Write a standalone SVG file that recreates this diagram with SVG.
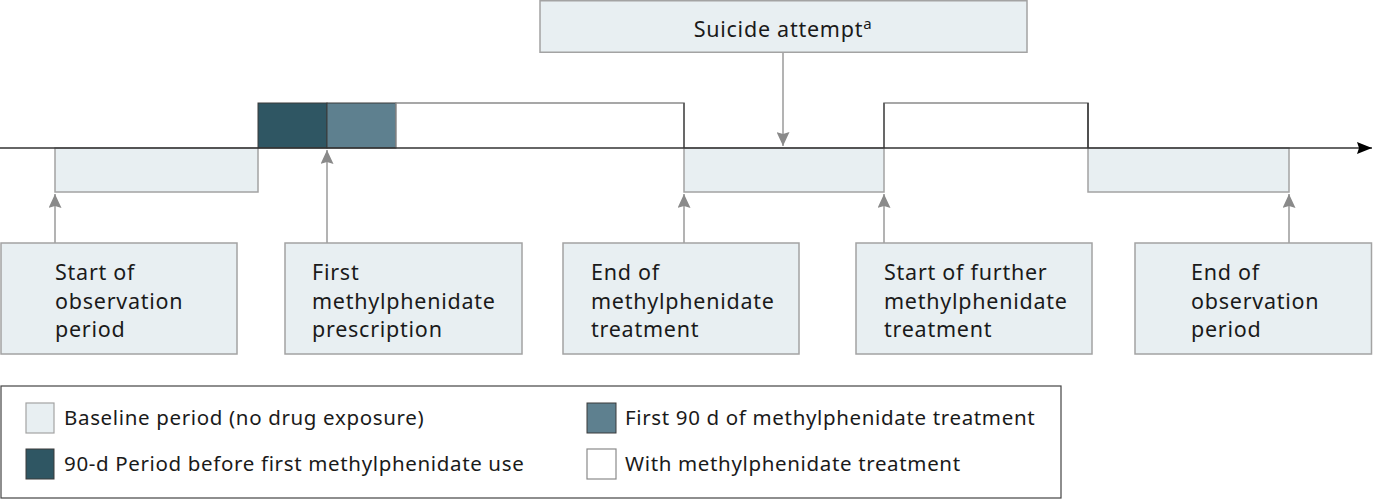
<svg xmlns="http://www.w3.org/2000/svg" width="1373" height="500" viewBox="0 0 1373 500">
<defs>
<style>
.t{font-family:"Noto Sans","Liberation Sans",Arial,sans-serif;font-size:21.5px;letter-spacing:0.75px;fill:#1a1a1a}
.lg{font-family:"Noto Sans","Liberation Sans",Arial,sans-serif;font-size:20.5px;letter-spacing:0.65px;fill:#1a1a1a}
.box{fill:#e8eff2;stroke:#a3a3a3;stroke-width:1.5}
.base{fill:#e8eff2;stroke:#a3a3a3;stroke-width:1.5}
.conn{stroke:#9a9a9a;stroke-width:1.5;fill:none}
</style>
<marker id="ga" markerUnits="userSpaceOnUse" markerWidth="14" markerHeight="13" refX="14" refY="6.5" orient="auto">
<path d="M0,0 L14,6.5 L0,13 L2,6.5 z" fill="#8a8a8a"/>
</marker>
<marker id="ba" markerUnits="userSpaceOnUse" markerWidth="15" markerHeight="12" refX="15" refY="6" orient="auto">
<path d="M0,0 L15,6 L0,12 L2,6 z" fill="#000"/>
</marker>
</defs>
<rect width="1373" height="500" fill="#fff"/>

<g id="periods">
<rect class="base" x="55" y="148" width="203" height="44"/>
<rect class="base" x="684" y="148" width="200" height="44"/>
<rect class="base" x="1088" y="148" width="201" height="44"/>
<rect x="258" y="103" width="69" height="45" fill="#2f5663" stroke="#3a3a3a" stroke-width="1"/>
<rect x="327" y="103" width="69" height="45" fill="#5e808f" stroke="#3a3a3a" stroke-width="1"/>
<path d="M396,148 V103 H684 V148" fill="#fff" stroke="#8a8a8a" stroke-width="1.5"/>
<path d="M884,148 V103 H1088 V148" fill="#fff" stroke="#8a8a8a" stroke-width="1.5"/>
<line x1="684" y1="103" x2="684" y2="148" stroke="#555" stroke-width="1.5"/>
<line x1="884" y1="103" x2="884" y2="148" stroke="#555" stroke-width="1.5"/>
<line x1="1088" y1="103" x2="1088" y2="148" stroke="#333" stroke-width="1.5"/>
</g>

<g id="timeline">
<line x1="0" y1="148" x2="1372" y2="148" stroke="#333" stroke-width="1.5" marker-end="url(#ba)"/>
</g>

<g id="connectors">
<line class="conn" x1="783" y1="52" x2="783" y2="146" marker-end="url(#ga)"/>
<line class="conn" x1="55" y1="243" x2="55" y2="194" marker-end="url(#ga)"/>
<line class="conn" x1="327" y1="243" x2="327" y2="150" marker-end="url(#ga)"/>
<line class="conn" x1="684" y1="243" x2="684" y2="194" marker-end="url(#ga)"/>
<line class="conn" x1="884" y1="243" x2="884" y2="194" marker-end="url(#ga)"/>
<line class="conn" x1="1289" y1="243" x2="1289" y2="194" marker-end="url(#ga)"/>
</g>

<g id="suicide">
<rect class="box" x="540" y="0.75" width="487" height="51.5"/>
<text class="t" x="783" y="37" text-anchor="middle">Suicide attempt<tspan font-size="15" dy="-8">a</tspan></text>
</g>

<g id="start-obs">
<rect class="box" x="1" y="243" width="236" height="111"/>
<text class="t" x="55" y="280">Start of</text>
<text class="t" x="55" y="308.5">observation</text>
<text class="t" x="55" y="337">period</text>
</g>

<g id="first-mph">
<rect class="box" x="285" y="243" width="237" height="111"/>
<text class="t" x="312" y="280">First</text>
<text class="t" x="312" y="308.5">methylphenidate</text>
<text class="t" x="312" y="337">prescription</text>
</g>

<g id="end-mph">
<rect class="box" x="563" y="243" width="236" height="111"/>
<text class="t" x="591" y="280">End of</text>
<text class="t" x="591" y="308.5">methylphenidate</text>
<text class="t" x="591" y="337">treatment</text>
</g>

<g id="further-mph">
<rect class="box" x="856" y="243" width="236" height="111"/>
<text class="t" x="884" y="280">Start of further</text>
<text class="t" x="884" y="308.5">methylphenidate</text>
<text class="t" x="884" y="337">treatment</text>
</g>

<g id="end-obs">
<rect class="box" x="1135" y="243" width="236.5" height="111"/>
<text class="t" x="1191" y="280">End of</text>
<text class="t" x="1191" y="308.5">observation</text>
<text class="t" x="1191" y="337">period</text>
</g>

<g id="legend">
<rect x="1" y="386" width="1060" height="112" fill="#fff" stroke="#444" stroke-width="1.2"/>
<rect x="26" y="403" width="28" height="30" fill="#e8eff2" stroke="#a3a3a3" stroke-width="1.2"/>
<text class="lg" x="64" y="425">Baseline period (no drug exposure)</text>
<rect x="26" y="449" width="28" height="30" fill="#2f5663" stroke="#3a3a3a" stroke-width="1"/>
<text class="lg" x="64" y="471">90-d Period before first methylphenidate use</text>
<rect x="587" y="403" width="29" height="30" fill="#5e808f" stroke="#3a3a3a" stroke-width="1"/>
<text class="lg" x="625" y="425">First 90 d of methylphenidate treatment</text>
<rect x="587" y="449" width="29" height="30" fill="#fff" stroke="#8a8a8a" stroke-width="1.2"/>
<text class="lg" x="625" y="471">With methylphenidate treatment</text>
</g>
</svg>
